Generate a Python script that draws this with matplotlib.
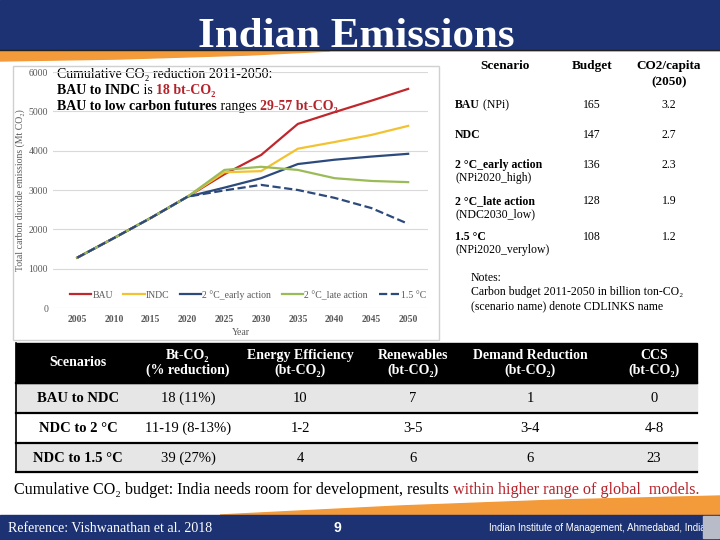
import matplotlib.pyplot as plt
from matplotlib.patches import Rectangle, Polygon

# ---------- data ----------
years = [2005, 2010, 2015, 2020, 2025, 2030, 2035, 2040, 2045, 2050]
bau = [1280, 1780, 2290, 2830, 3400, 3890, 4680, 4980, 5270, 5570]
indc = [1280, 1780, 2290, 2830, 3450, 3480, 4050, 4220, 4400, 4630]
early = [1280, 1780, 2290, 2830, 3060, 3300, 3660, 3770, 3850, 3920]
late = [1280, 1780, 2290, 2830, 3510, 3590, 3510, 3300, 3230, 3200]
low15 = [1280, 1780, 2290, 2830, 2990, 3130, 3000, 2800, 2540, 2140]
series_names = ['BAU', 'INDC', '2 °C_early action', '2 °C_late action', '1.5 °C']

scen_names = ['BAU', 'NDC', '2 °C_early action', '2 °C_late action', '1.5 °C']
scen_sub = [' (NPi)', '', '(NPi2020_high)', '(NDC2030_low)', '(NPi2020_verylow)']
budget = ['165', '147', '136', '128', '108']
per_capita = ['3.2', '2.7', '2.3', '1.9', '1.2']

tbl_head = ['Scenarios', 'Bt-CO₂\n(% reduction)', 'Energy Efficiency\n(bt-CO₂)',
            'Renewables\n(bt-CO₂)', 'Demand Reduction\n(bt-CO₂)', 'CCS\n(bt-CO₂)']
tbl_rows = [['BAU to NDC', '18 (11%)', '10', '7', '1', '0'],
            ['NDC to 2 °C', '11-19 (8-13%)', '1-2', '3-5', '3-4', '4-8'],
            ['NDC to 1.5 °C', '39 (27%)', '4', '6', '6', '23']]

SERIF = ['Liberation Serif', 'DejaVu Serif']
SANS = ['Liberation Sans', 'DejaVu Sans']
NAVY = '#1c3273'
ORANGE = '#f39a3a'
RED = '#b5222a'

fig = plt.figure(figsize=(7.2, 5.4), dpi=100)
bg = fig.add_axes([0, 0, 1, 1])
bg.set_xlim(0, 720)
bg.set_ylim(540, 0)
bg.axis('off')
renderer = fig.canvas.get_renderer()


def seg_text(x, y, parts, size, **kw):
    # parts: (text, color, weight)
    for s, c, w in parts:
        t = bg.text(x, y, s, color=c, fontweight=w, fontsize=size, family=SERIF,
                    va='baseline', **kw)
        x += t.get_window_extent(renderer).width


# ---------- banner ----------
bg.add_patch(Rectangle((0, 0), 720, 50, color=NAVY, zorder=1))
bg.plot([0, 720], [50, 50], color='#222222', lw=1, zorder=2)
bg.add_patch(Polygon([(0, 51), (330, 51), (250, 55), (120, 59), (0, 61)],
                     color=ORANGE, zorder=1))
bg.text(356, 47, 'Indian Emissions', color='white', fontsize=31, fontweight='bold',
        family=SERIF, ha='center', va='baseline', zorder=3)

# ---------- footer ----------
bg.add_patch(Polygon([(220, 515), (400, 506), (560, 500), (720, 496), (720, 515)],
                     color=ORANGE, zorder=1))
bg.add_patch(Rectangle((0, 515), 720, 25, color=NAVY, zorder=2))
bg.text(8, 532, 'Reference: Vishwanathan et al. 2018', color='white', fontsize=10,
        family=SERIF, va='baseline', zorder=3)
bg.text(337, 532, '9', color='white', fontsize=10, fontweight='bold', family=SANS,
        ha='center', va='baseline', zorder=3)
bg.text(706, 531, 'Indian Institute of Management, Ahmedabad, India', color='white',
        fontsize=7, family=SANS, ha='right', va='baseline', zorder=3)
bg.add_patch(Rectangle((703, 516), 16, 22, color='#b8bcc8', zorder=3))

# ---------- chart frame ----------
bg.add_patch(Rectangle((13, 66), 426, 274, facecolor='white', edgecolor='#d0d0d0',
                       lw=1, zorder=1))

ax = fig.add_axes([53 / 720, 1 - 308 / 540, 375 / 720, 236 / 540])
ax.set_facecolor('none')
colors = ['#c0272d', '#f2c230', '#2d4a7c', '#9bbb59', '#2d4a7c']
styles = ['-', '-', '-', '-', '--']
for vals, name, c, ls in zip([bau, indc, early, late, low15], series_names, colors, styles):
    ax.plot(years, vals, color=c, ls=ls, lw=1.6, label=name)
ax.set_xlim(2001.7, 2052.7)
ax.set_ylim(0, 6000)
ax.set_yticks(range(0, 6001, 1000))
ax.set_xticks(years)
ax.grid(axis='y', color='#d9d9d9', lw=0.8)
ax.set_axisbelow(True)
for s in ax.spines.values():
    s.set_visible(False)
ax.tick_params(length=0, colors='#595959', labelsize=7)
ax.tick_params(axis='x', pad=5)
for lab in ax.get_xticklabels():
    lab.set_family(SERIF)
    lab.set_fontweight('bold')
for lab in ax.get_yticklabels():
    lab.set_family(SERIF)
ax.set_xlabel('Year', fontsize=7, color='#595959', family=SERIF, labelpad=3)
bg.text(20, 190, 'Total carbon dioxide emissions (Mt CO₂)', rotation=90, fontsize=7,
        color='#595959', family=SERIF, ha='center', va='center', zorder=3)
leg = ax.legend(loc='center', bbox_to_anchor=(0.52, 0.055), ncol=5, frameon=False,
                handlelength=2.2, columnspacing=1.1, handletextpad=0.1,
                prop={'family': SERIF, 'size': 7})
for t in leg.get_texts():
    t.set_color('#595959')

seg_text(57, 78, [('Cumulative CO₂ reduction 2011-2050:', 'black', 'normal')], 10)
seg_text(57, 94, [('BAU to INDC', 'black', 'bold'), (' is ', 'black', 'normal'),
                  ('18 bt-CO₂', RED, 'bold')], 10)
seg_text(57, 110, [('BAU to low carbon futures', 'black', 'bold'),
                   (' ranges ', 'black', 'normal'), ('29-57 bt-CO₂', RED, 'bold')], 10)

# ---------- right table ----------
bg.text(505, 69, 'Scenario', fontsize=9.5, fontweight='bold', family=SERIF,
        ha='center', va='baseline')
bg.text(592, 69, 'Budget', fontsize=9.5, fontweight='bold', family=SERIF,
        ha='center', va='baseline')
bg.text(669, 69, 'CO2/capita', fontsize=9.5, fontweight='bold', family=SERIF,
        ha='center', va='baseline')
bg.text(669, 85, '(2050)', fontsize=9.5, fontweight='bold', family=SERIF,
        ha='center', va='baseline')
row_y = [108, 138, 168, 204, 240]
for i in range(5):
    y = row_y[i]
    if i == 0:
        seg_text(455, y, [(scen_names[i], 'black', 'bold'), (scen_sub[i], 'black', 'normal')], 8.5)
    else:
        seg_text(455, y, [(scen_names[i], 'black', 'bold')], 8.5)
        if scen_sub[i]:
            seg_text(455, y + 13, [(scen_sub[i], 'black', 'normal')], 8.5)
    bg.text(592, y, budget[i], fontsize=8.5, family=SERIF, ha='center', va='baseline')
    bg.text(669, y, per_capita[i], fontsize=8.5, family=SERIF, ha='center', va='baseline')
bg.text(471, 281, 'Notes:', fontsize=8.5, family=SERIF, va='baseline')
bg.text(471, 295, 'Carbon budget 2011-2050 in billion ton-CO₂', fontsize=8.5,
        family=SERIF, va='baseline')
bg.text(471, 309, '(scenario name) denote CDLINKS name', fontsize=8.5,
        family=SERIF, va='baseline')

# ---------- bottom table ----------
col_x = [78, 188, 300, 413, 530, 654]
left, right = 16, 697
bg.add_patch(Rectangle((left, 343), right - left, 40, color='black', zorder=2))
row_top = [383, 413, 443]
row_fill = ['#e6e6e6', 'white', '#e6e6e6']
for r in range(3):
    bg.add_patch(Rectangle((left, row_top[r]), right - left, 29, color=row_fill[r], zorder=1))
for yy in [383, 412.5, 442.5, 472]:
    bg.plot([left, right], [yy, yy], color='black', lw=1.6, zorder=3)
bg.plot([left, left], [343, 472], color='black', lw=1.2, zorder=3)
for j, h in enumerate(tbl_head):
    bg.text(col_x[j], 363, h, color='white', fontsize=10, fontweight='bold',
            family=SERIF, ha='center', va='center', linespacing=1.15, zorder=4)
for r, row in enumerate(tbl_rows):
    for j, v in enumerate(row):
        bg.text(col_x[j], row_top[r] + 15, v, fontsize=10.5,
                fontweight='bold' if j == 0 else 'normal', family=SERIF,
                ha='center', va='center', zorder=4)

seg_text(14, 494, [('Cumulative CO₂ budget: India needs room for development, results ',
                    'black', 'normal'),
                   ('within higher range of global  models.', RED, 'normal')], 11.6)

fig.savefig('out.png', dpi=100)
